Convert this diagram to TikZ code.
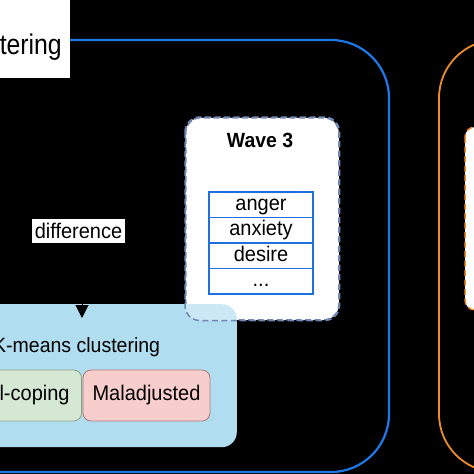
\documentclass[tikz,border=0pt]{standalone}
\usepackage{fontspec}
\usepackage{graphicx}
\setmainfont{Liberation Sans}
\usetikzlibrary{arrows.meta}
\definecolor{outerblue}{RGB}{30,120,232}
\definecolor{outerorange}{RGB}{240,140,40}
\definecolor{kmblue}{RGB}{177,221,240}
\definecolor{wavedash}{RGB}{115,135,180}
\definecolor{tblblue}{RGB}{30,112,222}
\definecolor{goodfill}{RGB}{213,232,212}
\definecolor{goodline}{RGB}{140,160,130}
\definecolor{badfill}{RGB}{248,206,204}
\definecolor{badline}{RGB}{175,120,120}
\newcommand{\vst}[1]{\scalebox{1}[1.06]{#1}}
\newcommand{\vsttitle}[1]{\scalebox{1}[1.15]{#1}}
\tikzset{
  txt/.style={font=\fontsize{20}{22}\selectfont},
  titlebox/.style={fill=white, inner xsep=8pt, inner ysep=0pt, font=\fontsize{24.8}{28}\selectfont},
  labelbox/.style={fill=white, inner xsep=3pt, inner ysep=0pt, minimum height=24pt, txt},
  wavebox/.style={draw=wavedash, line width=1.5pt, dash pattern=on 6pt off 3.5pt, rounded corners=15pt},
  orangebox/.style={draw=outerorange, line width=1.5pt, dash pattern=on 6pt off 3.5pt, fill=white, rounded corners=10pt},
  cell/.style={draw=tblblue, line width=1.7pt, minimum width=104pt, minimum height=25.5pt, inner sep=0pt, text height=14.5pt, text depth=4pt, txt},
  kmbox/.style={fill=kmblue, rounded corners=15pt, inner sep=0pt},
  good/.style={fill=goodfill, draw=goodline, line width=0.8pt, rounded corners=8pt, inner xsep=12pt, inner ysep=0pt, minimum height=51pt, txt},
  bad/.style={fill=badfill, draw=badline, line width=0.8pt, rounded corners=8pt, minimum width=127pt, minimum height=51pt, inner sep=0pt, txt},
  outer/.style={line width=2.2pt, rounded corners=58pt},
}
\begin{document}
\begin{tikzpicture}[x=1pt,y=-1pt]
\useasboundingbox (0,0) rectangle (474,474);
\fill[black] (0,0) rectangle (474,474);
\begin{scope}
\clip (0,0) rectangle (474,474);
% outer group frames
\draw[outer, draw=outerblue] (-300,40) rectangle (389,472);
\draw[outer, draw=outerorange, line width=1.8pt] (439,40) rectangle (800,472);
% orange inner dashed box
\draw[orangebox] (465,127) rectangle (620,310);
% title
\node[titlebox, anchor=base east, text height=54pt, text depth=24pt] (title) at (70,54) {\vsttitle{Clustering}};
% wave 3 box
\node[wavebox, fill=white, anchor=north west, minimum width=153pt, minimum height=202pt, inner sep=0pt] (wave) at (185,117) {};
\node[txt, font=\bfseries\fontsize{19.4}{22}\selectfont] (wavetitle) at (260,140) {\vst{Wave 3}};
% k-means box
\node[kmbox, anchor=north east, minimum width=400pt, minimum height=143pt] (kmeans) at (237,304) {};
\begin{scope}
\clip[rounded corners=15pt] (kmeans.north west) rectangle (kmeans.south east);
\fill[white, opacity=.35, rounded corners=15pt] (wave.north west) rectangle (wave.south east);
\end{scope}
\draw[wavebox] (wave.north west) rectangle (wave.south east);
% table
\node[cell] (c1) at (261,204.75) {\vst{anger}};
\node[cell] (c2) at (261,230.25) {\vst{anxiety}};
\node[cell] (c3) at (261,255.75) {\vst{desire}};
\node[cell] (c4) at (261,281.25) {\vst{...}};
% k-means label and clusters
\node[txt, anchor=base west, inner sep=0pt, font=\fontsize{19.5}{22}\selectfont] (kmlabel) at (-7,352) {\vst{K-means clustering}};
\node[good, anchor=east] (goodc) at (82,395.5) {\vst{Well-coping}};
\node[bad] (badc) at (146.5,395.5) {\vst{Maladjusted}};
% difference label and arrow
\node[labelbox] (diff) at (78.5,231) {\vst{difference}};
\coordinate (tip) at (82,318);
\draw[black, line width=1pt, -{Triangle[width=13pt,length=13pt]}] (diff.south -| tip) -- (tip);
\end{scope}
\end{tikzpicture}
\end{document}
